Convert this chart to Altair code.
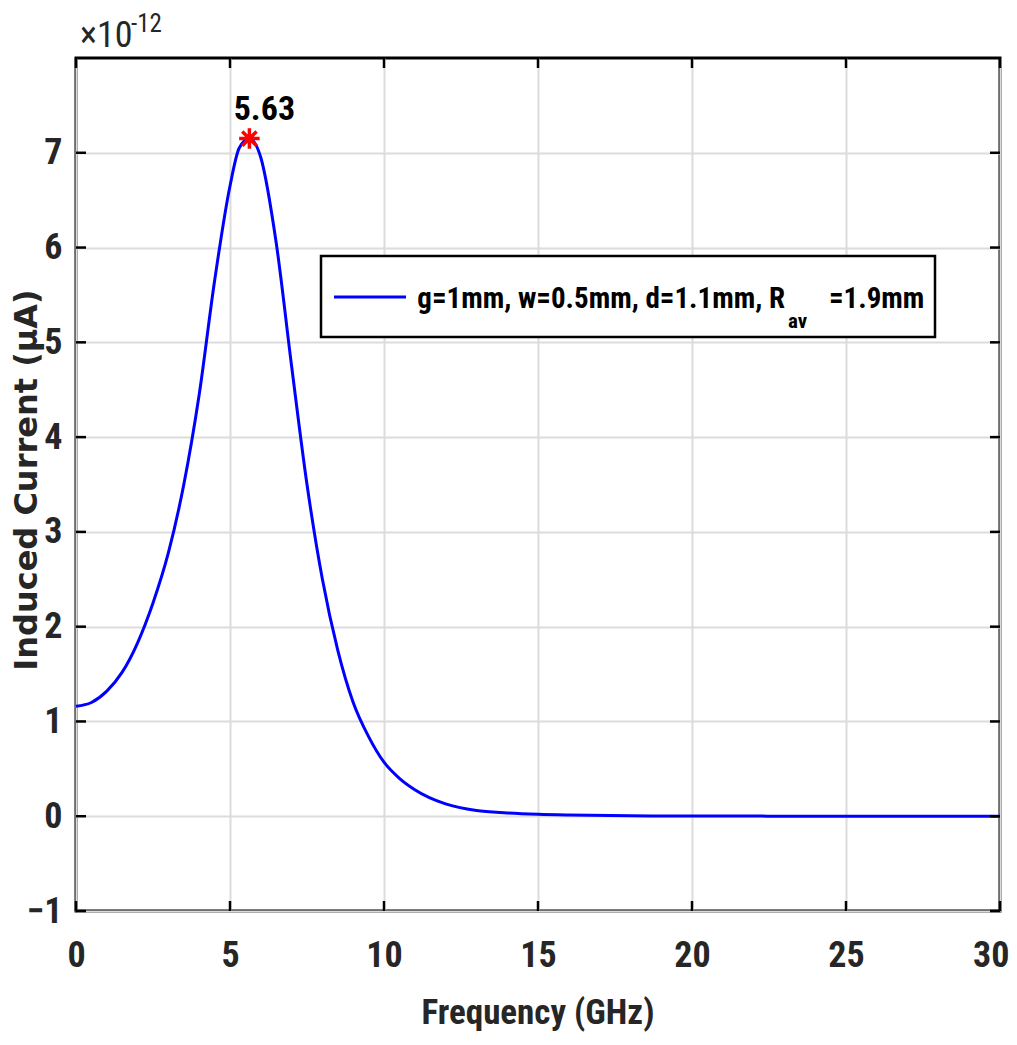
import altair as alt
import pandas as pd

# ---- data ----
freq_ghz = [0, 0.5, 1.0, 1.5, 2.0, 2.5, 3.0, 3.5, 4.0, 4.5, 5.0, 5.3, 5.63, 6.0, 6.5,
            7.0, 7.5, 8.0, 8.5, 9.0, 9.5, 10.0, 10.5, 11.0, 12.0, 13.0, 14.0, 15.0,
            16.0, 18.0, 20.0, 25.0, 30.0]
current_e12 = [1.16, 1.20, 1.32, 1.52, 1.83, 2.25, 2.78, 3.50, 4.45, 5.65, 6.65, 7.05,
               7.15, 6.95, 6.05, 4.75, 3.50, 2.50, 1.75, 1.20, 0.84, 0.57, 0.40, 0.28,
               0.13, 0.06, 0.035, 0.02, 0.012, 0.005, 0.002, 0.0005, 0.0]
peak_freq = [5.63]
peak_current = [7.15]
peak_label = ["5.63"]
x_ticks = [0, 5, 10, 15, 20, 25, 30]
y_ticks = [-1, 0, 1, 2, 3, 4, 5, 6, 7]
legend_main = "g=1mm, w=0.5mm, d=1.1mm, R"
legend_sub = "av"
legend_tail = "=1.9mm"
x_title = "Frequency (GHz)"
y_title = "Induced Current (\u03bcA)"
exp_base = "\u00d710"
exp_power = "-12"

W, H = 924, 853
NARROW = "Liberation Sans Narrow, Arial Narrow, Roboto Condensed, Liberation Sans, sans-serif"
TXT = "#262626"

df = pd.DataFrame({"f": freq_ghz, "v": current_e12})
peak_df = pd.DataFrame({"f": peak_freq, "v": peak_current, "label": peak_label})
xt_df = pd.DataFrame({"f": x_ticks})
yt_df = pd.DataFrame({"v": y_ticks})
one = pd.DataFrame({"k": [0]})

xs = alt.Scale(domain=[0, 30], nice=False, zero=False)
ys = alt.Scale(domain=[-1, 8], nice=False, zero=False)
xaxis = alt.Axis(values=x_ticks, title=None, grid=True, domain=False, ticks=False,
                 labelFont=NARROW, labelFontSize=36, labelFontWeight="bold",
                 labelColor=TXT, labelPadding=27, labelFlush=True, labelFlushOffset=9,
                 gridColor="#dcdcdc", gridWidth=2)
yaxis = alt.Axis(values=y_ticks, title=None, grid=True, domain=False, ticks=False,
                 labelFont=NARROW, labelFontSize=36, labelFontWeight="bold",
                 labelColor=TXT, labelPadding=14, labelFlush=False,
                 gridColor="#dcdcdc", gridWidth=2)
X = alt.X("f:Q", scale=xs, axis=xaxis)
Y = alt.Y("v:Q", scale=ys, axis=yaxis)

line = alt.Chart(df).mark_line(color="#0000ff", strokeWidth=3, interpolate="monotone").encode(x=X, y=Y)

asterisk = "M-1,0L1,0M0,-1L0,1M-0.7,-0.7L0.7,0.7M-0.7,0.7L0.7,-0.7"
peak = alt.Chart(peak_df).mark_point(shape=asterisk, size=420, stroke="#ff0000",
                                     strokeWidth=3.5, filled=False, opacity=1).encode(x=X, y=Y)
peak_text = alt.Chart(peak_df).mark_text(font=NARROW, fontSize=34, fontWeight="bold",
                                         color="black", align="center", baseline="alphabetic",
                                         dx=15, dy=-19).encode(x=X, y=Y, text="label:N")

tick_len = 10
xt_bottom = alt.Chart(xt_df).mark_rule(color="black", strokeWidth=2.5).encode(
    x=X, y=alt.value(H), y2=alt.value(H - tick_len))
xt_top = alt.Chart(xt_df).mark_rule(color="black", strokeWidth=2.5).encode(
    x=X, y=alt.value(0), y2=alt.value(tick_len))
yt_left = alt.Chart(yt_df).mark_rule(color="black", strokeWidth=2.5).encode(
    y=Y, x=alt.value(0), x2=alt.value(tick_len))
yt_right = alt.Chart(yt_df).mark_rule(color="black", strokeWidth=2.5).encode(
    y=Y, x=alt.value(W), x2=alt.value(W - tick_len))

# legend box
leg_box = alt.Chart(one).mark_rect(fill="white", stroke="black", strokeWidth=2.5).encode(
    x=alt.value(245), x2=alt.value(859), y=alt.value(198), y2=alt.value(279))
leg_line = alt.Chart(one).mark_rule(color="#0000ff", strokeWidth=3).encode(
    x=alt.value(258), x2=alt.value(330), y=alt.value(239))
leg_t1 = alt.Chart(one).mark_text(text=legend_main, font=NARROW, fontSize=29, fontWeight="bold",
                                  color="black", align="right", baseline="alphabetic").encode(
    x=alt.value(709), y=alt.value(250))
leg_t2 = alt.Chart(one).mark_text(text=legend_sub, font=NARROW, fontSize=21, fontWeight="bold",
                                  color="black", align="left", baseline="alphabetic").encode(
    x=alt.value(712), y=alt.value(270))
leg_t3 = alt.Chart(one).mark_text(text=legend_tail, font=NARROW, fontSize=29, fontWeight="bold",
                                  color="black", align="left", baseline="alphabetic").encode(
    x=alt.value(753), y=alt.value(250))

# titles and exponent
xtitle = alt.Chart(one).mark_text(text=x_title, font=NARROW, fontSize=35, fontWeight="bold",
                                  color=TXT, align="center", baseline="alphabetic").encode(
    x=alt.value(462), y=alt.value(966))
ytitle = alt.Chart(one).mark_text(text=y_title, font="DejaVu Sans", fontSize=32, fontWeight="bold",
                                  color=TXT, align="center", baseline="alphabetic", angle=270).encode(
    x=alt.value(-39), y=alt.value(422))
exp1 = alt.Chart(one).mark_text(text=exp_base, font=NARROW, fontSize=36,
                                color=TXT, align="left", baseline="alphabetic").encode(
    x=alt.value(4), y=alt.value(-11))
exp2 = alt.Chart(one).mark_text(text=exp_power, font=NARROW, fontSize=25,
                                color=TXT, align="left", baseline="alphabetic").encode(
    x=alt.value(55), y=alt.value(-26))

chart = alt.layer(
    line, xt_bottom, xt_top, yt_left, yt_right, leg_box, leg_line, leg_t1, leg_t2, leg_t3,
    peak, peak_text, xtitle, ytitle, exp1, exp2
).properties(
    width=W, height=H,
    autosize=alt.AutoSizeParams(type="none"),
    padding={"left": 68, "top": 50, "right": 9, "bottom": 124},
    background="white",
).configure_view(stroke="black", strokeWidth=3)

chart.save("out.html", embed_options={"renderer": "svg", "actions": False})
